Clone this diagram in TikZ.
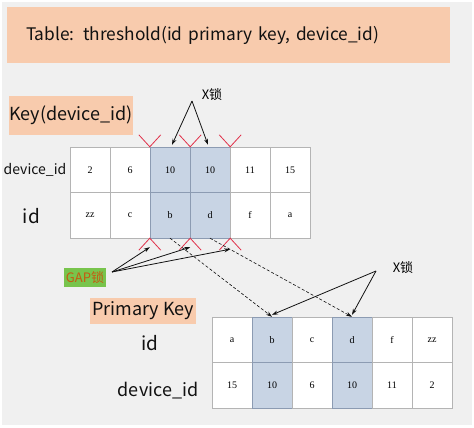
\documentclass[tikz,border=0pt]{standalone}
\usepackage{fontspec}
\setmainfont{Liberation Serif}
\newfontfamily\cjk{Noto Sans CJK SC}
\usetikzlibrary{arrows.meta}
\definecolor{bg}{HTML}{F0F0F0}
\definecolor{peach}{HTML}{F8CBAD}
\definecolor{hl}{HTML}{C8D4E4}
\definecolor{grid}{HTML}{B4B4B4}
\definecolor{hlgrid}{HTML}{8C9BB2}
\definecolor{vred}{HTML}{E0304A}
\definecolor{gapg}{HTML}{78C44C}
\definecolor{gapt}{HTML}{C55A11}
\definecolor{fg}{HTML}{111111}

\tikzset{
  cell/.style={draw=grid, fill=white, minimum width=40pt, minimum height=45.5pt,
    inner sep=0pt, font=\fontsize{10}{12}\selectfont},
  hcell/.style={cell, fill=hl, draw=hlgrid},
  tag/.style={fill=peach, inner sep=0pt, text=fg, font=\cjk\fontsize{18}{22}\selectfont},
  lbl/.style={inner sep=0pt, text=fg, font=\cjk\fontsize{18}{22}\selectfont},
  lock/.style={inner sep=0pt, font=\cjk\fontsize{13}{15}\selectfont},
  vmark/.style={draw=vred, line width=0.8pt},
  lockarrow/.style={-{Stealth[length=6pt,width=4pt]}, draw=fg, line width=0.8pt},
  moved/.style={lockarrow, line width=0.6pt, dash pattern=on 3pt off 2pt},
}

\begin{document}
\begin{tikzpicture}[x=1pt,y=-1pt]
  \useasboundingbox (0,0) rectangle (474,428);
  \fill[white] (0,0) rectangle (474,428);
  \fill[bg] (2,2) rectangle (472,425);

  % title and key boxes
  \node[tag, minimum width=443pt, minimum height=56pt, text width=405pt, align=left,
    inner xsep=19pt, font=\cjk\fontsize{17.3}{21}\selectfont] (title) at (228.5,35)
    {Table: threshold(id primary key, device\_id)};
  \node[tag, minimum width=122pt, minimum height=39pt] (keyidx) at (71,115.5) {Key(device\_id)};
  \node[tag, minimum width=106pt, minimum height=26pt] (pkey) at (143,311) {Primary Key};

  % secondary index
  \foreach \a/\b/\s [count=\i] in {2/zz/cell,6/c/cell,10/b/hcell,10/d/hcell,11/f/cell,15/a/cell} {
    \node[\s] (k1-\i) at ({50+40*\i},169.75) {\a};
    \node[\s] (k2-\i) at ({50+40*\i},215.25) {\b};
  }
  \node[lbl, font=\cjk\fontsize{14}{16}\selectfont] (kdev) at (35,170) {device\_id};
  \node[lbl, font=\cjk\fontsize{19}{22}\selectfont] (kid) at (31.5,216) {id};

  % primary key
  \foreach \a/\b/\s [count=\i] in {a/15/cell,b/10/hcell,c/6/cell,d/10/hcell,f/11/cell,zz/2/cell} {
    \node[\s] (p1-\i) at ({192+40*\i},339.75) {\a};
    \node[\s] (p2-\i) at ({192+40*\i},385.25) {\b};
  }
  \node[lbl, font=\cjk\fontsize{19}{22}\selectfont] (pid) at (150,343) {id};
  \node[lbl] (pdev) at (158,391) {device\_id};

  % gap marks
  \foreach \c/\a in {3/west,3/east,4/east} {
    \draw[vmark] (k1-\c.north \a) ++(-11,-12) -- ++(11,12) -- ++(11,-12);
    \draw[vmark] (k2-\c.south \a) ++(-11,12) -- ++(11,-12) -- ++(11,12);
  }

  % X locks on index
  \node[lock] (xlockA) at (212,95) {X锁};
  \coordinate (xtipA) at (192,101);
  \draw[lockarrow] (xtipA) -- ([xshift=2pt,yshift=2pt]k1-3.north);
  \draw[lockarrow] (xtipA) -- ([xshift=-2pt,yshift=2pt]k1-4.north);

  % gap locks
  \node[fill=gapg, text=gapt, inner sep=0pt, minimum width=42pt, minimum height=19pt,
    font=\cjk\fontsize{13}{15}\selectfont] (gap) at (85,277.5) {GAP锁};
  \coordinate (gaptip) at (112,272);
  \draw[lockarrow] (gaptip) -- ([yshift=-9pt]k2-3.south west);
  \draw[lockarrow] (gaptip) -- ([yshift=-9pt]k2-3.south east);
  \draw[lockarrow] (gaptip) -- ([yshift=-11pt]k2-4.south east);

  % back to table
  \draw[moved] (k2-3.south) -- (p1-2.north);
  \draw[moved] (k2-4.south) -- (p1-4.north);

  % X locks on primary key
  \node[lock] (xlockB) at (403,268) {X锁};
  \coordinate (xtipB) at (376,271);
  \draw[lockarrow] (xtipB) -- ([yshift=2pt]p1-2.north);
  \draw[lockarrow] (xtipB) -- ([yshift=2pt]p1-4.north);
\end{tikzpicture}
\end{document}
